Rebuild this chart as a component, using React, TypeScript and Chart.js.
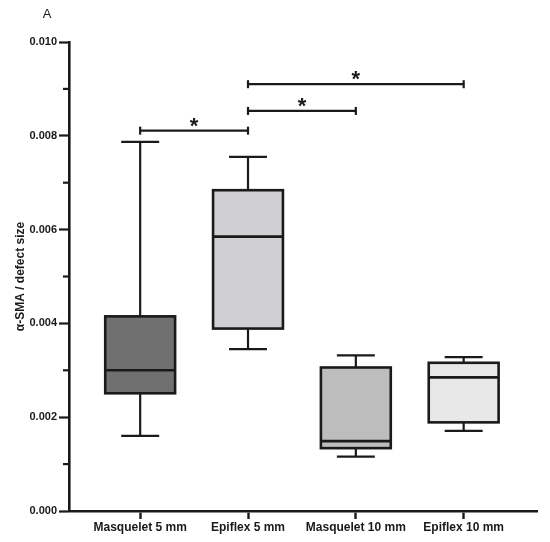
import React, { useEffect, useRef } from "react";
import { Chart, registerables } from "chart.js";

Chart.register(...registerables);

// ---- data ----
const CATEGORIES = ["Masquelet 5 mm", "Epiflex 5 mm", "Masquelet 10 mm", "Epiflex 10 mm"];
const WHISKER_MIN = [0.0016, 0.00345, 0.00116, 0.00171];
const Q1 = [0.00251, 0.00389, 0.00134, 0.00189];
const MEDIAN = [0.003, 0.00585, 0.00149, 0.00285];
const Q3 = [0.00415, 0.00684, 0.00306, 0.00316];
const WHISKER_MAX = [0.00787, 0.00755, 0.00332, 0.00328];

// significance brackets (category index from / to, height)
const BRACKET_FROM = [0, 1, 1];
const BRACKET_TO = [1, 2, 3];
const BRACKET_Y = [0.00811, 0.00853, 0.0091];
const BRACKET_LABEL = ["*", "*", "*"];

const Y_MIN = 0;
const Y_MAX = 0.01;
const Y_STEP = 0.001;
const Y_TITLE = "α-SMA / defect size";
const PANEL_LABEL = "A";

// ---- styles ----
const FILLS = ["#707070", "#d0d0d3", "#bdbdbd", "#e8e8e8"];
const INK = "#1a1a1a";
const FONT = '"Liberation Sans", Arial, sans-serif';
const BOX_HALF = 0.324;
const CAP_HALF = 0.176;

const boxPlugin = {
  id: "boxes",
  afterDatasetsDraw(chart: any) {
    const { ctx, scales, chartArea } = chart;
    const x = scales.x;
    const y = scales.y;
    ctx.save();
    ctx.strokeStyle = INK;
    ctx.lineCap = "butt";
    const line = (x1: number, y1: number, x2: number, y2: number) => {
      ctx.beginPath();
      ctx.moveTo(x1, y1);
      ctx.lineTo(x2, y2);
      ctx.stroke();
    };
    CATEGORIES.forEach((_, i) => {
      const xc = x.getPixelForValue(i);
      const xl = x.getPixelForValue(i - BOX_HALF);
      const xr = x.getPixelForValue(i + BOX_HALF);
      const cl = x.getPixelForValue(i - CAP_HALF);
      const cr = x.getPixelForValue(i + CAP_HALF);
      const yMin = y.getPixelForValue(WHISKER_MIN[i]);
      const yQ1 = y.getPixelForValue(Q1[i]);
      const yMed = y.getPixelForValue(MEDIAN[i]);
      const yQ3 = y.getPixelForValue(Q3[i]);
      const yMax = y.getPixelForValue(WHISKER_MAX[i]);
      ctx.lineWidth = 2.2;
      line(xc, yMax, xc, yQ3);
      line(xc, yQ1, xc, yMin);
      line(cl, yMax, cr, yMax);
      line(cl, yMin, cr, yMin);
      ctx.fillStyle = FILLS[i];
      ctx.fillRect(xl, yQ3, xr - xl, yQ1 - yQ3);
      ctx.lineWidth = 2.6;
      ctx.strokeRect(xl, yQ3, xr - xl, yQ1 - yQ3);
      line(xl, yMed, xr, yMed);
    });
    // minor ticks on y axis
    ctx.lineWidth = 2.2;
    for (let v = Y_MIN + Y_STEP; v < Y_MAX; v += 2 * Y_STEP) {
      const py = y.getPixelForValue(v);
      line(chartArea.left - 6, py, chartArea.left, py);
    }
    // significance brackets
    ctx.lineWidth = 2.2;
    ctx.fillStyle = INK;
    ctx.font = `bold 22px ${FONT}`;
    ctx.textAlign = "center";
    ctx.textBaseline = "alphabetic";
    BRACKET_Y.forEach((v, k) => {
      const x1 = x.getPixelForValue(BRACKET_FROM[k]);
      const x2 = x.getPixelForValue(BRACKET_TO[k]);
      const py = y.getPixelForValue(v);
      line(x1, py, x2, py);
      line(x1, py - 4, x1, py + 4);
      line(x2, py - 4, x2, py + 4);
      ctx.fillText(BRACKET_LABEL[k], (x1 + x2) / 2, py + 2);
    });
    // panel label
    ctx.font = `13px ${FONT}`;
    ctx.textBaseline = "middle";
    ctx.fillText(PANEL_LABEL, chartArea.left - 22, 14);
    ctx.restore();
  },
};

export default function App() {
  const ref = useRef<HTMLCanvasElement | null>(null);
  useEffect(() => {
    if (!ref.current) return;
    const chart = new Chart(ref.current, {
      type: "scatter",
      data: {
        datasets: [
          {
            data: CATEGORIES.map((_, i) => ({ x: i, y: MEDIAN[i] })),
            pointRadius: 0,
            showLine: false,
          },
        ],
      },
      options: {
        animation: false,
        responsive: false,
        layout: { padding: { left: 0, top: 42, right: 13, bottom: 0 } },
        plugins: { legend: { display: false }, tooltip: { enabled: false } },
        scales: {
          x: {
            type: "linear",
            min: -0.66,
            max: 3.68,
            afterBuildTicks: (s: any) => {
              s.ticks = CATEGORIES.map((_, i) => ({ value: i }));
            },
            afterFit: (s: any) => {
              s.height = 31;
            },
            grid: {
              drawOnChartArea: false,
              drawTicks: true,
              tickLength: 8,
              tickWidth: 2.4,
              tickColor: INK,
            },
            border: { display: true, color: INK, width: 2.6 },
            ticks: {
              padding: 1,
              color: INK,
              font: { family: FONT, size: 12, weight: "bold" },
              maxRotation: 0,
              autoSkip: false,
              callback: (v: any) => CATEGORIES[Math.round(Number(v))] ?? "",
            },
          },
          y: {
            type: "linear",
            min: Y_MIN,
            max: Y_MAX,
            afterFit: (s: any) => {
              s.width = 69;
            },
            grid: {
              drawOnChartArea: false,
              drawTicks: true,
              tickLength: 10,
              tickWidth: 2.2,
              tickColor: (c: any) =>
                Math.round(c.tick.value / Y_STEP) % 2 === 0 ? INK : "rgba(0,0,0,0)",
            },
            border: { display: true, color: INK, width: 2.6 },
            ticks: {
              stepSize: Y_STEP,
              padding: 2,
              color: INK,
              autoSkip: false,
              font: { family: FONT, size: 11, weight: "bold" },
              callback: (v: any) =>
                Math.round(Number(v) / Y_STEP) % 2 === 0 ? Number(v).toFixed(3) : "",
            },
            title: {
              display: true,
              text: Y_TITLE,
              color: INK,
              font: { family: FONT, size: 12, weight: "bold" },
              padding: { top: 13, bottom: 0 },
            },
          },
        },
      },
      plugins: [boxPlugin],
    } as any);
    return () => chart.destroy();
  }, []);
  return (
    <div style={{ position: "fixed", left: 0, top: 0, width: 550, height: 542, background: "#fff" }}>
      <canvas ref={ref} width={550} height={542} />
    </div>
  );
}
